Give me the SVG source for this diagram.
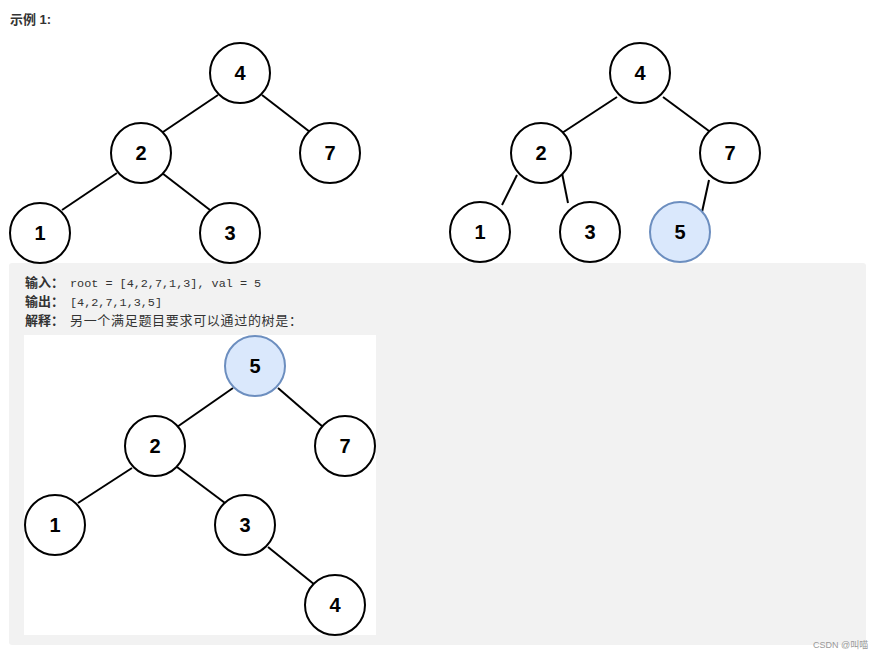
<svg xmlns="http://www.w3.org/2000/svg" width="880" height="658" viewBox="0 0 880 658">
<style>
.n circle{fill:#ffffff;stroke:#000000;stroke-width:2}
.n.hl circle{fill:#dae8fc;stroke:#6c8ebf}
.n text{font-family:"Liberation Sans",Arial,sans-serif;font-weight:bold;font-size:20px;text-anchor:middle;fill:#000}
.e line{stroke:#000;stroke-width:2}
.cap{font-family:"Liberation Sans","Noto Sans CJK SC",sans-serif;font-size:13px;fill:#333}
.b{font-weight:bold}
.mono{font-family:"Liberation Mono","DejaVu Sans Mono",monospace;font-size:11.8px;fill:#333}
</style>
<rect width="880" height="658" fill="#ffffff"/>
<text class="cap b" x="10" y="24" font-size="12">示例 1:</text>
<rect x="9" y="263" width="857" height="382" rx="3" fill="#f2f2f2"/>
<text class="cap b" x="25" y="287">输入：</text>
<text class="mono" x="70" y="287">root = [4,2,7,1,3], val = 5</text>
<text class="cap b" x="25" y="306">输出：</text>
<text class="mono" x="70" y="306">[4,2,7,1,3,5]</text>
<text class="cap b" x="25" y="325">解释：</text>
<text class="cap" x="70" y="325" textLength="232" lengthAdjust="spacing">另一个满足题目要求可以通过的树是：</text>
<rect x="24" y="335" width="352" height="300" fill="#ffffff"/>
<g id="connectors" class="e">
<line x1="218" y1="95" x2="163" y2="132"/>
<line x1="262" y1="95" x2="310" y2="132"/>
<line x1="117" y1="173" x2="62" y2="210"/>
<line x1="162" y1="173" x2="210" y2="210"/>
<line x1="617" y1="97" x2="562" y2="133"/>
<line x1="663" y1="97" x2="709" y2="131"/>
<line x1="517" y1="175" x2="502" y2="205"/>
<line x1="562" y1="173" x2="568" y2="203"/>
<line x1="709" y1="180" x2="702" y2="212"/>
<line x1="233" y1="388" x2="177" y2="427"/>
<line x1="278" y1="388" x2="323" y2="427"/>
<line x1="132" y1="468" x2="78" y2="503"/>
<line x1="177" y1="467" x2="225" y2="503"/>
<line x1="268" y1="547" x2="315" y2="585"/>
</g>
<g id="a4" class="n"><circle cx="240" cy="73" r="30"/><text x="240" y="80">4</text></g>
<g id="a2" class="n"><circle cx="141" cy="153" r="30"/><text x="141" y="160">2</text></g>
<g id="a7" class="n"><circle cx="330" cy="153" r="30"/><text x="330" y="160">7</text></g>
<g id="a1" class="n"><circle cx="40" cy="233" r="30"/><text x="40" y="240">1</text></g>
<g id="a3" class="n"><circle cx="230" cy="233" r="30"/><text x="230" y="240">3</text></g>
<g id="b4" class="n"><circle cx="640" cy="73" r="30"/><text x="640" y="80">4</text></g>
<g id="b2" class="n"><circle cx="541" cy="153" r="30"/><text x="541" y="160">2</text></g>
<g id="b7" class="n"><circle cx="730" cy="153" r="30"/><text x="730" y="160">7</text></g>
<g id="b1" class="n"><circle cx="480" cy="232" r="30"/><text x="480" y="239">1</text></g>
<g id="b3" class="n"><circle cx="590" cy="232" r="30"/><text x="590" y="239">3</text></g>
<g id="b5" class="n hl"><circle cx="680" cy="232" r="30"/><text x="680" y="239">5</text></g>
<g id="c5" class="n hl"><circle cx="255" cy="366" r="30"/><text x="255" y="373">5</text></g>
<g id="c2" class="n"><circle cx="155" cy="446" r="30"/><text x="155" y="453">2</text></g>
<g id="c7" class="n"><circle cx="345" cy="446" r="30"/><text x="345" y="453">7</text></g>
<g id="c1" class="n"><circle cx="55" cy="525" r="30"/><text x="55" y="532">1</text></g>
<g id="c3" class="n"><circle cx="245" cy="525" r="30"/><text x="245" y="532">3</text></g>
<g id="c4" class="n"><circle cx="335" cy="605" r="30"/><text x="335" y="612">4</text></g>
<text x="813" y="648" font-family="Liberation Sans,'Noto Sans CJK SC',sans-serif" font-size="9" fill="#999">CSDN @叫喵</text>
</svg>
